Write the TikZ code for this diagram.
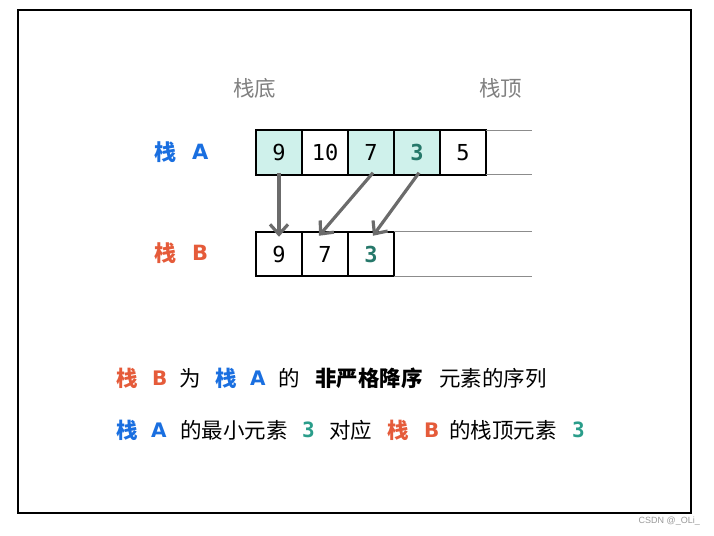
\documentclass[tikz,border=0pt]{standalone}
\usepackage{fontspec}
\newfontfamily\cjk{Noto Sans CJK SC}
\setmonofont{DejaVu Sans Mono}
\newfontfamily\latinb{DejaVu Sans}
\newfontfamily\wmfont{Liberation Sans}
\usetikzlibrary{arrows.meta}
\definecolor{stkblue}{HTML}{1A6FE0}
\definecolor{stkred}{HTML}{E55B3A}
\definecolor{stkteal}{HTML}{2A9D8A}
\definecolor{stkdteal}{HTML}{26786A}
\definecolor{stkfill}{HTML}{CFF1EB}
\tikzset{
  cell/.style={draw=black,line width=1.8pt,outer sep=0pt,minimum width=46pt,minimum height=44.5pt,inner sep=0pt,font=\ttfamily\fontsize{22}{22}\selectfont},
  hit/.style={cell,fill=stkfill},
  rail/.style={draw=black!45,line width=1.2pt},
  move/.style={draw=black!58,line width=3.2pt,-{Straight Barb[length=10pt,width=18pt,line width=3.2pt]}},
  txt/.style={anchor=west,inner sep=0pt,font=\cjk\fontsize{21.5}{21.5}\selectfont},
  btxt/.style={txt,font=\cjk\bfseries\fontsize{21.5}{21.5}\selectfont},
  lbl/.style={anchor=west,inner sep=0pt,font=\latinb\bfseries\fontsize{20}{20}\selectfont},
  num/.style={anchor=west,inner sep=0pt,font=\ttfamily\bfseries\fontsize{21}{21}\selectfont}
}
\begin{document}
\begin{tikzpicture}[x=1pt,y=-1pt]
  \useasboundingbox (0,0) rectangle (714,535);
  \draw[line width=1.6pt] (18,10) rectangle (691,513);
  % top labels
  \node[txt,text=black!50] (bot) at (233,88) {栈底};
  \node[txt,text=black!50] (top) at (479,88) {栈顶};
  % stack A
  \node[btxt,text=stkblue,font=\cjk\bfseries\fontsize{22}{22}\selectfont] (ka) at (154,152) {栈};
  \node[lbl,text=stkblue,font=\latinb\bfseries\fontsize{21}{21}\selectfont] (na) at (192,152) {A};
  \node[hit] (a1) at (279,152.5) {9};
  \node[cell,anchor=west] (a2) at (a1.east) {10};
  \node[hit,anchor=west] (a3) at (a2.east) {7};
  \node[hit,anchor=west,text=stkdteal,font=\ttfamily\bfseries\fontsize{22}{22}\selectfont] (a4) at (a3.east) {3};
  \node[cell,anchor=west] (a5) at (a4.east) {5};
  \coordinate (ea) at (532,130.25);
  \coordinate (fa) at (532,174.75);
  \draw[rail] (a5.north east) -- (ea);
  \draw[rail] (a5.south east) -- (fa);
  % stack B
  \node[btxt,text=stkred,font=\cjk\bfseries\fontsize{22}{22}\selectfont] (kb) at (154,253) {栈};
  \node[lbl,text=stkred,font=\latinb\bfseries\fontsize{21}{21}\selectfont] (nb) at (192,253) {B};
  \node[cell] (b1) at (279,254) {9};
  \node[cell,anchor=west] (b2) at (b1.east) {7};
  \node[cell,anchor=west,text=stkdteal,font=\ttfamily\bfseries\fontsize{22}{22}\selectfont] (b3) at (b2.east) {3};
  \coordinate (eb) at (532,231.75);
  \coordinate (fb) at (532,276.25);
  \draw[rail] (b3.north east) -- (eb);
  \draw[rail] (b3.south east) -- (fb);
  % moves
  \draw[move] ([yshift=2pt]a1.south) -- ([yshift=-5pt]b1.north);
  \draw[move] ([xshift=2pt,yshift=2pt]a3.south) -- ([xshift=-6pt,yshift=-4pt]b2.north);
  \draw[move] ([xshift=2pt,yshift=2pt]a4.south) -- ([xshift=2pt,yshift=-4pt]b3.north);
  % text lines
  \node[btxt,text=stkred] (s1) at (116,378) {栈};
  \node[lbl,text=stkred] (s2) at (152,378) {B};
  \node[txt] (s3) at (179,378) {为};
  \node[btxt,text=stkblue] (s4) at (215,378) {栈};
  \node[lbl,text=stkblue] (s5) at (250,378) {A};
  \node[txt] (s6) at (278,378) {的};
  \node[btxt] (s7) at (315,378) {非严格降序};
  \node[txt] (s8) at (439,378) {元素的序列};
  \node[btxt,text=stkblue] (t1) at (116,430) {栈};
  \node[lbl,text=stkblue] (t2) at (151,430) {A};
  \node[txt] (t3) at (180,430) {的最小元素};
  \node[num,text=stkteal] (t4) at (302,430) {3};
  \node[txt] (t5) at (329,430) {对应};
  \node[btxt,text=stkred] (t6) at (387,430) {栈};
  \node[lbl,text=stkred] (t7) at (424,430) {B};
  \node[txt] (t8) at (449,430) {的栈顶元素};
  \node[num,text=stkteal] (t9) at (572,430) {3};
  % watermark
  \node[anchor=east,inner sep=0pt,text=black!40,font=\wmfont\fontsize{9}{9}\selectfont] (wm) at (700,521) {CSDN @\_OLi\_};
\end{tikzpicture}
\end{document}
